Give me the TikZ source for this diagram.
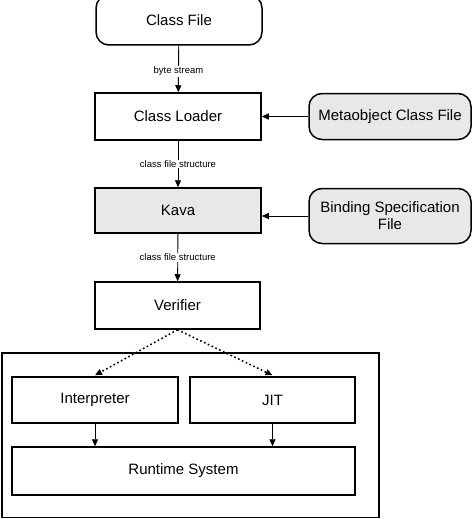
\documentclass[tikz,border=0pt]{standalone}
\usepackage{fontspec}
\setmainfont{Liberation Sans}
\usepackage{tikz}
\usetikzlibrary{calc,positioning,arrows.meta}
\definecolor{boxgray}{RGB}{232,232,232}

\begin{document}
\begin{tikzpicture}[x=1pt, y=-1pt,
  lbl/.style={inner sep = 1pt, fill = white, font=\fontsize{9.5}{11}\selectfont},
  flow/.style={-{Triangle[length=7pt,width=6pt]}, line width=0.9pt}]
\tikzstyle{block}=[draw, line width=1.5pt, inner sep=2pt, font=\fontsize{15}{17}\selectfont]
\tikzstyle{file}=[block, rounded corners=13pt]
\useasboundingbox (0,0) rectangle (474,519);
\node[file, minimum width=166pt, minimum height=50pt] (cf) at (179,20) {Class File};
\node[block, minimum width=166pt, minimum height=47pt] (cl) at (178,116.5) {Class Loader};
\node[file, fill=boxgray, minimum width=162pt, minimum height=46pt] (meta) at (390,116.5) {Metaobject Class File};
\node[block, fill=boxgray, minimum width=166pt, minimum height=45pt] (kava) at (178,210.5) {Kava};
\node[file, fill=boxgray, align=center, minimum width=162pt, minimum height=55pt] (bind) at (390,216) {Binding Specification\\File};
\node[block, minimum width=165pt, minimum height=47pt] (ver) at (177.5,305.5) {Verifier};
% runtime environment
\draw[line width=1.5pt] (2,353) rectangle (379,517.5);
\node[block, minimum width=166pt, minimum height=46pt] (interp) at (95,400) {Interpreter};
\node[block, minimum width=165pt, minimum height=46pt] (jit) at (272.5,400) {JIT};
\node[block, minimum width=343pt, minimum height=48pt] (rts) at (183.5,471) {Runtime System};
\draw[flow] (cf) -- node[lbl, pos=0.55] {byte stream} (cl);
\draw[flow] (cl) -- node[lbl, pos=0.5] {class file structure} (kava);
\draw[flow] (kava) -- node[lbl, pos=0.5] {class file structure} (ver);
\draw[flow, line width=1.4pt] (meta.west) -- (meta.west -| cl.east);
\draw[flow] (bind.west) -- (bind.west -| kava.east);
\foreach \i in {interp,jit}{\draw[flow, line width=1.6pt, dash pattern=on 1.6pt off 2.6pt] (ver.south) -- ($(\i.north)+(0,-1)$);}
\foreach \i in {interp,jit}{\draw[flow] (\i.south) -- (\i.south |- rts.north);}
\end{tikzpicture}
\end{document}
